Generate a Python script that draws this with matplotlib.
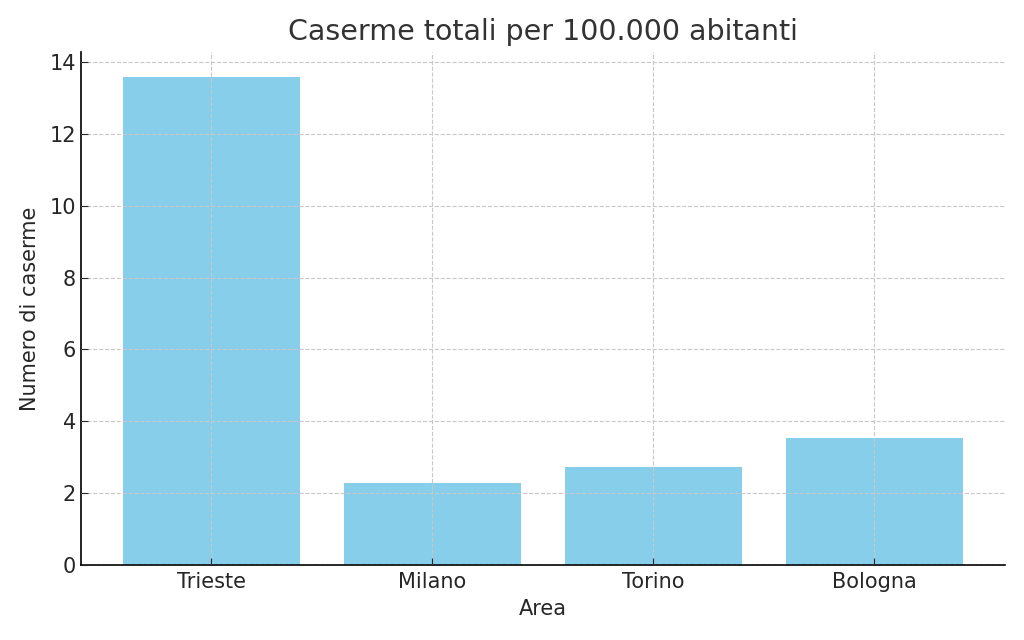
import matplotlib.pyplot as plt

# Data
areas = ['Trieste', 'Milano', 'Torino', 'Bologna']
caserme = [13.58, 2.28, 2.72, 3.53]

fig, ax = plt.subplots(figsize=(10.24, 6.4), dpi=100)
fig.subplots_adjust(left=0.079, right=0.981, top=0.918, bottom=0.117)

ax.bar(areas, caserme, color='skyblue', width=0.8, zorder=1)

ax.set_title('Caserme totali per 100.000 abitanti', fontsize=20.5, color='#333333', pad=9)
ax.set_xlabel('Area', fontsize=15, color='#262626', labelpad=5)
ax.set_ylabel('Numero di caserme', fontsize=15, color='#262626', labelpad=7)
ax.tick_params(axis='both', labelsize=15, direction='in', length=5, colors='#262626')
ax.tick_params(axis='x', pad=5)

ax.grid(True, linestyle='--', color='#c8c8c8', linewidth=0.8, zorder=2)
ax.set_axisbelow(False)
ax.spines['top'].set_visible(False)
ax.spines['right'].set_visible(False)
ax.spines['left'].set_linewidth(1.2)
ax.spines['bottom'].set_linewidth(1.2)

plt.savefig('out.png', dpi=100)
